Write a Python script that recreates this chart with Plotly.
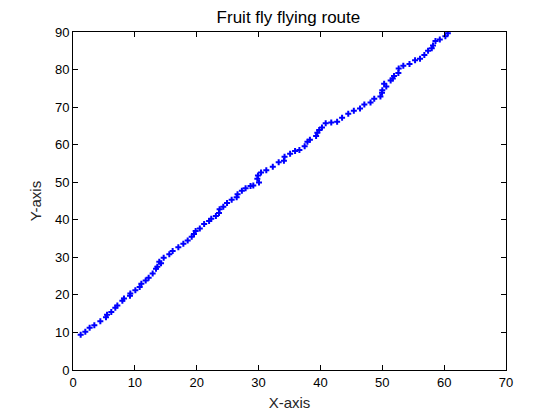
"""Fruit fly flying route - scatter of route points."""
import plotly.graph_objects as go

x_vals = [1.24, 1.99, 2.69, 3.45, 4.42, 5.33, 5.50, 6.19, 6.84, 7.17, 7.98, 8.24,
          9.21, 9.27, 10.08, 10.78, 11.05, 11.75, 12.23, 12.88, 13.42, 13.63, 13.95,
          14.23, 14.66, 15.57, 16.11, 17.03, 17.84, 18.54, 19.19, 19.56, 19.83, 20.5,
          21.2, 22.0, 22.35, 23.1, 23.6, 23.7, 24.3, 24.9, 25.65, 26.46, 26.6, 27.3,
          27.9, 28.7, 29.15, 30.07, 29.8, 29.9, 30.4, 31.25, 32.3, 33.25, 34.1, 34.2,
          35.1, 35.9, 36.6, 37.45, 37.9, 38.3, 39.3, 39.5, 39.8, 40.25, 40.85, 41.75,
          42.7, 43.5, 44.5, 45.4, 46.4, 47.1, 48.1, 48.7, 49.7, 49.95, 50.0, 50.3,
          50.65, 51.35, 51.7, 51.9, 52.6, 52.65, 53.4, 54.4, 55.3, 56.1, 56.8, 57.4,
          58.0, 58.2, 58.6, 59.3, 60.2, 60.6]
y_vals = [9.39, 10.18, 11.23, 11.93, 12.98, 14.04, 14.74, 15.44, 16.58, 17.19, 18.42,
          19.03, 19.74, 20.35, 21.23, 22.1, 22.98, 23.86, 24.56, 25.7, 26.93, 27.46,
          28.85, 28.4, 29.9, 30.8, 31.7, 32.7, 33.6, 34.5, 35.5, 36.2, 37.0, 37.7,
          38.9, 39.7, 40.3, 41.0, 41.8, 42.8, 43.5, 44.5, 45.3, 46.0, 46.8, 47.7,
          48.4, 49.0, 49.1, 49.9, 50.9, 51.8, 52.6, 53.2, 54.1, 55.3, 55.7, 56.8,
          57.6, 58.3, 58.6, 59.6, 60.8, 61.3, 62.3, 63.2, 63.9, 64.6, 65.7, 65.9,
          66.1, 67.2, 68.2, 69.0, 69.6, 70.7, 71.2, 72.2, 72.8, 73.8, 74.5, 76.2,
          75.5, 77.1, 77.6, 78.3, 79.1, 80.3, 81.0, 81.5, 82.5, 82.9, 83.9, 85.0,
          85.7, 86.4, 87.6, 88.0, 88.9, 89.7]

FONT = "Liberation Sans, Arial, sans-serif"
NARROW = "Liberation Sans Narrow, Liberation Sans, Arial, sans-serif"

fig = go.Figure()
fig.add_trace(go.Scatter(
    x=x_vals, y=y_vals, mode="markers",
    marker=dict(symbol="cross", size=5, color="#0000ff",
                line=dict(width=0)),
    showlegend=False,
))

axis_style = dict(
    showline=True, mirror="ticks", linecolor="black", linewidth=1,
    ticks="inside", ticklen=5, tickcolor="black", showgrid=False,
    zeroline=False, tickfont=dict(family=NARROW, size=13, color="black"),
)
fig.update_xaxes(range=[0, 70], dtick=10,
                 title=dict(text="X-axis", standoff=8,
                            font=dict(family=FONT, size=15, color="#262626")),
                 **axis_style)
fig.update_yaxes(range=[0, 90], dtick=10,
                 title=dict(text="Y-axis", standoff=9,
                            font=dict(family=FONT, size=15, color="#262626")),
                 **axis_style)

# the page body adds an 8px offset, so the figure is a bit smaller than the window
fig.update_layout(
    width=552, height=412,
    margin=dict(l=65, r=54, t=24, b=46),
    paper_bgcolor="white", plot_bgcolor="white",
    title=dict(text="Fruit fly flying route", x=0.508, xanchor="center",
               y=1.0, yanchor="top", pad=dict(t=3),
               font=dict(family=FONT, size=17, color="black")),
)

fig.write_html("out.html")
